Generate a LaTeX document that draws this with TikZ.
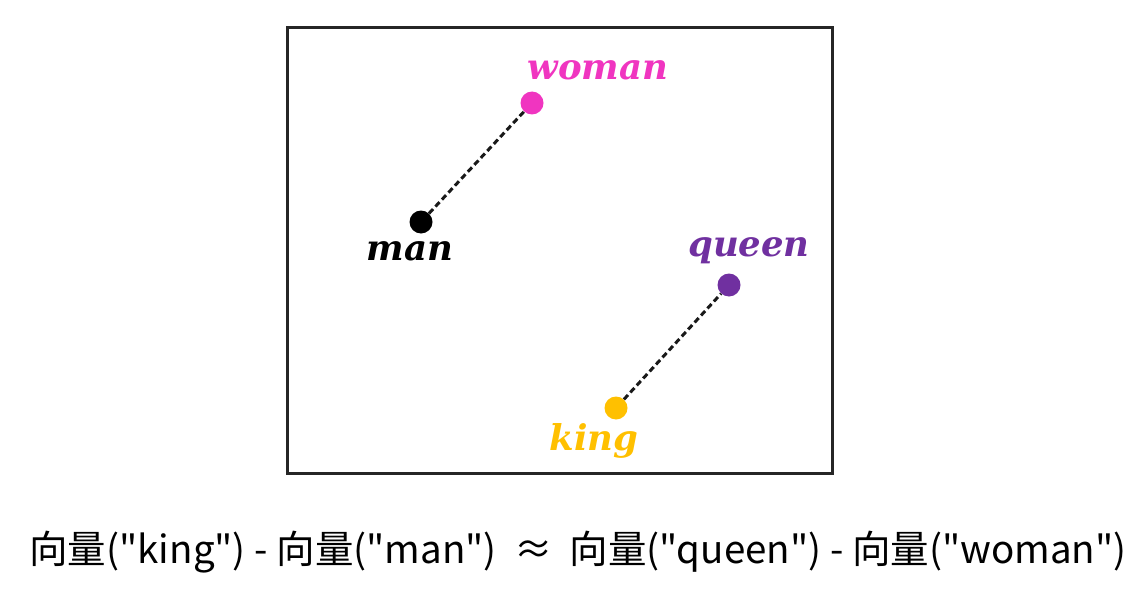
\documentclass[tikz,border=0pt]{standalone}
\usepackage{fontspec}
\setmainfont{DejaVu Serif}
\newfontfamily\cjk{Noto Sans CJK SC}
\definecolor{wpink}{HTML}{F035C0}
\definecolor{qpurple}{HTML}{7030A0}
\definecolor{kgold}{HTML}{FFC000}
\begin{document}
\begin{tikzpicture}[x=1pt,y=-1pt,
  dot/.style={circle,inner sep=0pt,minimum size=23pt},
  lbl/.style={font=\fontsize{35.5}{36}\selectfont\bfseries\itshape,inner sep=0pt},
  conn/.style={dash pattern=on 6pt off 3.5pt,line width=3pt,black!90}]
\useasboundingbox (0,0) rectangle (1148,599);
\draw[line width=3pt,black!85] (287,28) rectangle (832,473);
\node[dot,fill=wpink] (woman) at (532,103) {};
\node[dot,fill=black] (man) at (421,222) {};
\node[dot,fill=qpurple] (queen) at (729,285) {};
\node[dot,fill=kgold] (king) at (616,408) {};
\node[lbl,text=wpink] (lw) at (598,70) {woman};
\node[lbl,text=black] (lm) at (410,251) {man};
\node[lbl,text=qpurple] (lq) at (749,251) {queen};
\node[lbl,text=kgold] (lk) at (594,441) {king};
\draw[conn] (man) -- (woman);
\draw[conn] (king) -- (queen);
\node[font=\cjk\fontsize{38.5}{42}\selectfont,inner sep=0pt] (eq) at (578,552) {向量("king") - 向量("man") \ ≈ \ 向量("queen") - 向量("woman")};
\end{tikzpicture}
\end{document}
